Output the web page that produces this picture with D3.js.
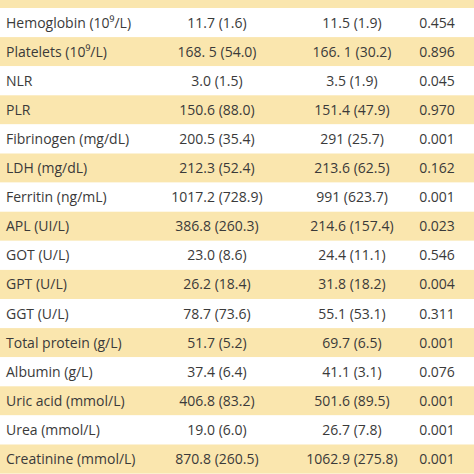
<!DOCTYPE html><html><head><meta charset="utf-8"><script src="https://cdn.jsdelivr.net/npm/d3@7"></script>
<style>body{margin:0;background:#fff}</style></head><body><svg id="c" width="474" height="474"></svg>
<script>
const labels=["","Hemoglobin (10⁹/L)","Platelets (10⁹/L)","NLR","PLR","Fibrinogen (mg/dL)","LDH (mg/dL)","Ferritin (ng/mL)","APL (UI/L)","GOT (U/L)","GPT (U/L)","GGT (U/L)","Total protein (g/L)","Albumin (g/L)","Uric acid (mmol/L)","Urea (mmol/L)","Creatinine (mmol/L)"];
const group1=["","11.7 (1.6)","168. 5 (54.0)","3.0 (1.5)","150.6 (88.0)","200.5 (35.4)","212.3 (52.4)","1017.2 (728.9)","386.8 (260.3)","23.0 (8.6)","26.2 (18.4)","78.7 (73.6)","51.7 (5.2)","37.4 (6.4)","406.8 (83.2)","19.0 (6.0)","870.8 (260.5)"];
const group2=["","11.5 (1.9)","166. 1 (30.2)","3.5 (1.9)","151.4 (47.9)","291 (25.7)","213.6 (62.5)","991 (623.7)","214.6 (157.4)","24.4 (11.1)","31.8 (18.2)","55.1 (53.1)","69.7 (6.5)","41.1 (3.1)","501.6 (89.5)","26.7 (7.8)","1062.9 (275.8)"];
const pvals=["","0.454","0.896","0.045","0.970","0.001","0.162","0.001","0.023","0.546","0.004","0.311","0.001","0.076","0.001","0.001","0.001"];
const svg=d3.select("#c");
const y=d3.scaleLinear().domain([0,1]).range([-21.1,8]);
const rh=y(1)-y(0);
const g=svg.selectAll("g").data(labels).join("g").attr("transform",(d,i)=>`translate(0,${y(i)})`);
g.append("rect").attr("width",474).attr("height",rh).attr("fill",(d,i)=>i%2===0?"#fae6ae":"#fff");
const t=(x,anchor,arr)=>g.append("text").attr("x",x).attr("y",rh/2+5).attr("text-anchor",anchor)
 .attr("font-family","Open Sans, sans-serif").attr("font-size",14).attr("fill","#3a3a3a").text((d,i)=>arr[i]);
t(6,"start",labels);t(217,"middle",group1);t(352,"middle",group2);t(437,"middle",pvals);
</script></body></html>
